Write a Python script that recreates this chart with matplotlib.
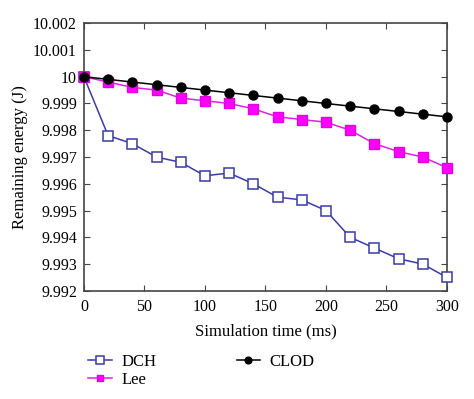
import matplotlib
matplotlib.use("Agg")
import matplotlib.pyplot as plt

time_ms = [0, 20, 40, 60, 80, 100, 120, 140, 160, 180, 200, 220, 240, 260, 280, 300]
dch = [10.0, 9.9978, 9.9975, 9.9970, 9.9968, 9.9963, 9.9964, 9.9960, 9.9955, 9.9954,
       9.9950, 9.9940, 9.9936, 9.9932, 9.9930, 9.9925]
lee = [10.0, 9.9998, 9.9996, 9.9995, 9.9992, 9.9991, 9.9990, 9.9988, 9.9985, 9.9984,
       9.9983, 9.9980, 9.9975, 9.9972, 9.9970, 9.9966]
clod = [10.0, 9.9999, 9.9998, 9.9997, 9.9996, 9.9995, 9.9994, 9.9993, 9.9992, 9.9991,
        9.9990, 9.9989, 9.9988, 9.9987, 9.9986, 9.9985]
xticks = [0, 50, 100, 150, 200, 250, 300]
yticks = [9.992, 9.993, 9.994, 9.995, 9.996, 9.997, 9.998, 9.999, 10.0, 10.001, 10.002]
ytick_labels = ["9.992", "9.993", "9.994", "9.995", "9.996", "9.997", "9.998", "9.999",
                "10", "10.001", "10.002"]

plt.rcParams['font.family'] = ['Liberation Serif', 'DejaVu Serif']

fig = plt.figure(figsize=(4.74, 3.99), dpi=100)
ax = fig.add_axes([0.177, 0.271, 0.766, 0.671])

ax.plot(time_ms, dch, color='#3b3ba6', marker='s', markerfacecolor='white',
        markeredgecolor='#3b3ba6', markersize=7, markeredgewidth=1.1, linewidth=1.1, label='DCH', clip_on=False, zorder=3)
ax.plot(time_ms, lee, color='#e020e0', marker='s', markerfacecolor='#ff00ff',
        markeredgecolor='#e000e0', markersize=6.5, linewidth=1.1, label='Lee', clip_on=False, zorder=3)
ax.plot(time_ms, clod, color='black', marker='o', markersize=6.5, linewidth=1.1,
        label='CLOD', clip_on=False, zorder=4)

ax.set_xlim(0, 300)
ax.set_ylim(9.992, 10.002)
ax.set_xticks(xticks)
ax.set_yticks(yticks)
ax.set_yticklabels(ytick_labels)
ax.tick_params(direction='in', top=True, right=True, labelsize=11.5, length=4, color='#444444')
ax.tick_params(axis='x', pad=6)
ax.tick_params(axis='y', pad=5)
for s in ax.spines.values():
    s.set_color('#444444')
    s.set_linewidth(1.2)
ax.set_xlabel('Simulation time (ms)', fontsize=12, labelpad=6)
ax.set_ylabel('Remaining energy (J)', fontsize=12, labelpad=4)

handles, labels = ax.get_legend_handles_labels()
fig.legend(handles, labels, loc='upper left', bbox_to_anchor=(0.172, 0.13), ncol=2,
           frameon=False, fontsize=12, handlelength=1.4, columnspacing=4.8,
           labelspacing=0.15, handletextpad=0.6, borderaxespad=0, markerscale=0.75)

fig.savefig('out.png', dpi=100)
